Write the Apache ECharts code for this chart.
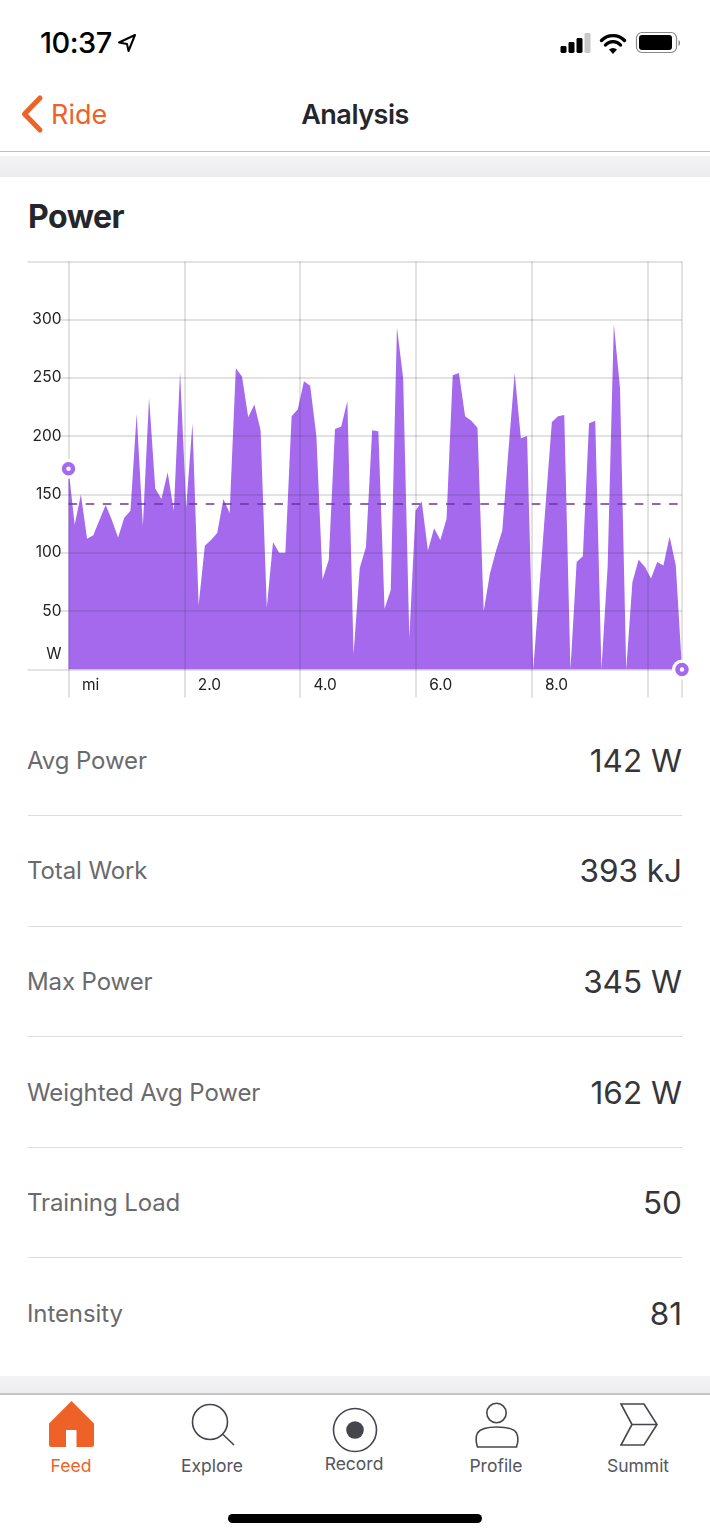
<!DOCTYPE html>
<html>
<head>
<meta charset="utf-8">
<title>Power</title>
<script src="https://cdn.jsdelivr.net/npm/echarts@6/dist/echarts.min.js"></script>
<style>
html,body{margin:0;padding:0;background:#fff;}
body{position:relative;width:710px;height:1537px;overflow:hidden;font-family:Inter,"Noto Sans",sans-serif;}
.t{position:absolute;white-space:nowrap;line-height:1;transform:translateY(-50%);}
.band{position:absolute;left:0;width:710px;background:linear-gradient(#f4f4f5,#ececee);}
.rule{position:absolute;left:28px;width:654px;height:1px;background:#dcdcdc;}
svg{position:absolute;overflow:visible;}
#main{position:absolute;left:0;top:250px;width:710px;height:460px;}
</style>
</head>
<body>
<div class="t" style="left:40px;top:42px;font-size:29px;font-weight:500;color:#000;letter-spacing:-.5px">10:37</div>
<svg style="left:117px;top:33px" width="20" height="20" viewBox="0 0 20 20"><path d="M18 2 2 9.5l8 1.5 1.5 7z" fill="none" stroke="#000" stroke-width="2" stroke-linejoin="round"/></svg>
<svg style="left:560px;top:30px" width="125" height="26" viewBox="0 0 125 26">
  <rect x="0.5" y="16" width="6" height="7" rx="1.4" fill="#000"/><rect x="8.5" y="12" width="6" height="11" rx="1.4" fill="#000"/><rect x="16.5" y="8" width="6" height="15" rx="1.4" fill="#000"/><rect x="24.5" y="3" width="6" height="20" rx="1.4" fill="#c8c8c8"/>
  <path d="M41.5 10.5a16 16 0 0 1 23 0M45.5 15a10 10 0 0 1 15 0" fill="none" stroke="#000" stroke-width="3.4" stroke-linecap="round"/><path d="M49 19.5a6 6 0 0 1 8 0l-4 4.5z" fill="#000"/>
  <rect x="76.5" y="2.5" width="40" height="20" rx="5.5" fill="none" stroke="#888" stroke-width="1.2"/><rect x="79" y="5" width="33" height="15" rx="3" fill="#000"/><path d="M118.5 10v6c2-.6 2-5.4 0-6z" fill="#888"/>
</svg>

<svg style="left:20px;top:92px" width="28" height="44" viewBox="0 0 28 44"><path d="M20 6 4.5 22 20 38" fill="none" stroke="#ee6228" stroke-width="5" stroke-linecap="round" stroke-linejoin="round"/></svg>
<div class="t" style="left:51px;top:114px;font-size:27px;color:#ee6228">Ride</div>
<div class="t" style="left:355px;top:114px;font-size:27px;font-weight:600;color:#25262b;transform:translate(-50%,-50%);letter-spacing:-.5px">Analysis</div>
<div style="position:absolute;left:0;top:151px;width:710px;height:1px;background:#c0c0c0"></div>
<div class="band" style="top:156px;height:21px"></div>
<div class="t" style="left:28px;top:217px;font-size:32px;font-weight:700;color:#25262b;letter-spacing:-.5px">Power</div>

<div id="main"></div>
<div id="stats"></div>

<div class="band" style="top:1376px;height:17px"></div>
<div style="position:absolute;left:0;top:1393px;width:710px;height:1.5px;background:#c4c4c4"></div>
<svg style="left:0;top:1395px" width="710" height="70" viewBox="0 0 710 70">
  <path d="M71.5 6 94 28.5v21a2.5 2.5 0 0 1-2.500 2.500H76.500V35H66V52H51.500a2.500 2.500 0 0 1-2.500-2.500v-21z" fill="#ee6228"/>
  <g fill="none" stroke="#45454d" stroke-width="1.6">
    <ellipse cx="210" cy="27" rx="17.500" ry="17.500"/><path d="M223 39.500 234 50"/>
    <circle cx="355" cy="35" r="21.500"/>
    <circle cx="496.500" cy="18" r="9.700"/><path d="M477.500 52c-2-6-2-10 0-14 5-8 34-8 39 0 2 4 2 8 0 14z"/>
    <path d="M621 9H644L657 29.500 644 50H621L632 29.500ZM632 29.500H657"/>
  </g>
  <circle cx="355" cy="35" r="8.800" fill="#45454d"/>
</svg>
<div id="nav"></div>
<div style="position:absolute;left:228px;top:1514px;width:254px;height:9px;border-radius:5px;background:#000"></div>

<script>
const power = [172,124,150,112,115,128,141,128,113,130,136,219,123,233,155,146,169,136,255,139,
  211,55,106,111,117,146,134,258,251,216,227,205,53,109,100,100,217,223,247,243,
  200,77,94,206,208,230,13,87,105,205,204,52,68,293,250,27,136,144,102,121,
  111,129,252,254,217,213,207,50,82,102,119,188,254,198,200,0,71,142,212,217,
  218,0,92,97,211,213,0,88,296,241,0,75,94,88,78,92,89,114,89,0];
const totalMiles = 10.6;
const avgPower = 142;
const avgLineEnd = 10.53;
const yTicks = [50,100,150,200,250,300];
const unitAt = 13; // the W sits a bit above the baseline
const xLabels = [0,2,4,6,8];

const statLabels = ['Avg Power','Total Work','Max Power','Weighted Avg Power','Training Load','Intensity'];
const statValues = ['142 W','393 kJ','345 W','162 W','50','81'];
const statY = [761,871,982,1093,1203,1314];
const ruleY = [815,926,1036,1147,1257];

const navLabels = ['Feed','Explore','Record','Profile','Summit'];
const navX = [71,212,354,496,638];

let html = '';
statLabels.forEach((s,i)=>{
  html += `<div class="t" style="left:27px;top:${statY[i]}px;font-size:24px;letter-spacing:-.1px;color:#6a6a6e">${s}</div>`;
  html += `<div class="t" style="right:28px;top:${statY[i]}px;font-size:31.5px;color:#35353a">${statValues[i]}</div>`;
});
ruleY.forEach(y=>{ html += `<div class="rule" style="top:${y}px"></div>`; });
document.getElementById('stats').innerHTML = html;

document.getElementById('nav').innerHTML = navLabels.map((s,i)=>{
  const c = i===0 ? '#ee6228' : '#55555c';
  const y = i===2 ? 1464 : 1466;
  return `<div class="t" style="left:${navX[i]}px;top:${y}px;font-size:17.500px;color:${c};transform:translate(-50%,-50%)">${s}</div>`;
}).join('');

const gridColor = 'rgba(60,60,70,0.2)';
const step = totalMiles/(power.length-1);
const points = power.map((v,i)=>[i*step,v]);
const yMax = 349.5;

const myChart = echarts.init(document.getElementById('main'));
myChart.setOption({
  animation:false,
  grid:{left:68.5,top:11.5,width:613.5,height:408},
  xAxis:{
    type:'value',min:0,max:totalMiles,interval:2,z:5,
    axisLine:{show:false},
    axisTick:{show:true,length:28,lineStyle:{color:gridColor,width:1.5}},
    splitLine:{show:true,lineStyle:{color:gridColor,width:1.5}},
    axisLabel:{
      customValues:xLabels,
      formatter:v=>v===0?'mi':v.toFixed(1),
      align:'left',padding:[0,0,0,13.5],margin:8,
      fontFamily:'Inter',fontSize:15.5,color:'#222'
    }
  },
  yAxis:[{
    type:'value',min:0,max:yMax,interval:50,z:5,
    axisLine:{show:false},
    axisTick:{show:true,length:8.5,lineStyle:{color:gridColor,width:1.5}},
    splitLine:{show:true,lineStyle:{color:gridColor,width:1.5}},
    axisLabel:{
      customValues:[unitAt].concat(yTicks),
      formatter:v=>v===unitAt?'W':String(v),
      margin:7,padding:[2,0,0,0],fontFamily:'Inter',fontSize:15.5,color:'#222'
    }
  },{
    // only here to run the top and bottom rules out to the left margin
    type:'value',position:'left',min:0,max:yMax,z:5,
    axisLine:{show:false},axisLabel:{show:false},splitLine:{show:false},
    axisTick:{show:true,customValues:[0,yMax],length:41,lineStyle:{color:gridColor,width:1.5}}
  }],
  series:[{
    type:'line',
    data:points,
    symbol:'none',
    lineStyle:{width:0},
    areaStyle:{color:'#a569ee',opacity:1},
    z:2,
    markLine:{
      silent:true,symbol:'none',z:6,label:{show:false},
      lineStyle:{color:'#6b35a6',type:[8.6,8.56],width:1.5},
      data:[[{coord:[0,avgPower]},{coord:[avgLineEnd,avgPower]}]]
    }
  },{
    // white halo under the two end markers
    type:'scatter',clip:false,silent:true,z:6,symbolSize:20,
    itemStyle:{color:'#fff',opacity:1},
    data:[points[0],points[points.length-1]]
  },{
    type:'scatter',clip:false,silent:true,z:7,symbolSize:9,
    itemStyle:{color:'#fff',borderColor:'#a569ee',borderWidth:4.5,opacity:1},
    data:[points[0],points[points.length-1]]
  }]
});
</script>
</body>
</html>
